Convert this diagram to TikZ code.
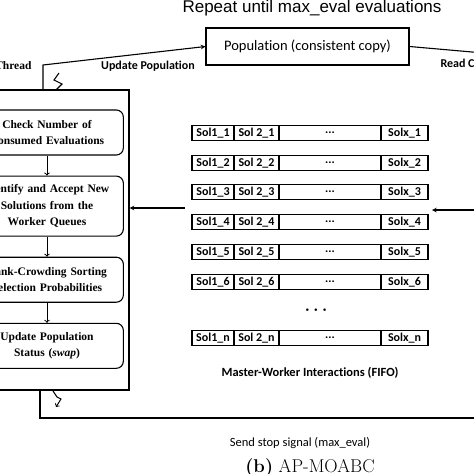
\documentclass[tikz,border=0pt]{standalone}
\usepackage{fontspec}
\newfontfamily\calibrifont[Ligatures=NoCommon]{Carlito}
\newfontfamily\arialfont{Liberation Sans}
\newfontfamily\cambriafont{Liberation Serif}
\usetikzlibrary{arrows, positioning}
\tikzstyle{population} = [rectangle, minimum width=203pt, minimum height=37pt, text centered, draw=black, line width=1.1pt, font=\calibrifont\fontsize{14.5}{16}\selectfont]
\tikzstyle{task} = [rectangle, rounded corners=7pt, minimum width=150pt, minimum height=45pt, text width=146pt, align=center, draw=black, line width=1.1pt, font=\cambriafont\bfseries\fontsize{11.5}{16.5}\selectfont]
\tikzstyle{master} = [rectangle, minimum width=149pt, minimum height=300pt, draw=black, line width=1.1pt]
\tikzstyle{cell} = [rectangle, minimum height=15.7pt, inner sep=0pt, outer sep=0pt, text centered, draw=black, line width=1.1pt, font=\calibrifont\bfseries\fontsize{12}{13}\selectfont]
\tikzstyle{cellA} = [cell, minimum width=42pt]
\tikzstyle{cellB} = [cell, minimum width=45pt]
\tikzstyle{cellC} = [cell, minimum width=102pt]
\tikzstyle{cellD} = [cell, minimum width=47pt]
\tikzstyle{boldtext} = [font=\calibrifont\bfseries\fontsize{12}{14}\selectfont]
\tikzstyle{plaintext} = [font=\calibrifont\fontsize{12.5}{14}\selectfont]
\tikzstyle{arrow} = [line width=1.1pt,->,>=stealth]
\tikzstyle{darrow} = [line width=1pt,->,>=to]
\tikzstyle{line} = [line width=1.1pt]

\begin{document}
\begin{tikzpicture}[x=1pt, y=-1pt, node distance=20pt]
\useasboundingbox (0,0) rectangle (474,474);
\clip (0,0) rectangle (474,474);

% Nodes
\node (title) [font=\arialfont\fontsize{17}{19}\selectfont] at (312,8) {Repeat until max\_eval evaluations};
\node (pop) [population] at (307.5,46.5) {Population (consistent copy)};

\node (master) [master] at (54.5,240) {};
\node (thread) [anchor=east, font=\cambriafont\bfseries\fontsize{11.5}{13}\selectfont] at (35,66) {Master Thread};

\node (check) [task] at (47,132.5) {Check Number of\\Consumed Evaluations};
\node (accept) [task, below=of check, minimum height=60pt] {Identify and Accept New\\Solutions from the\\Worker Queues};
\node (sort) [task, below=of accept] {Rank-Crowding Sorting\\Selection Probabilities};
\node (swap) [task, below=of sort] {Update Population\\Status (\textit{swap})};

\node (updtext) [boldtext] at (148,66) {Update Population};
\node (readtext) [boldtext, anchor=west] at (437,64) {Read Copy};

% Queues
\node (s11) [cellA] at (213,133) {Sol1\_1};
\node (s21) [cellB, right=0pt of s11] {Sol 2\_1};
\node (sd1) [cellC, right=0pt of s21] {...};
\node (sx1) [cellD, right=0pt of sd1] {Solx\_1};

\node (s12) [cellA] at (213,163) {Sol1\_2};
\node (s22) [cellB, right=0pt of s12] {Sol 2\_2};
\node (sd2) [cellC, right=0pt of s22] {...};
\node (sx2) [cellD, right=0pt of sd2] {Solx\_2};

\node (s13) [cellA] at (213,192) {Sol1\_3};
\node (s23) [cellB, right=0pt of s13] {Sol 2\_3};
\node (sd3) [cellC, right=0pt of s23] {...};
\node (sx3) [cellD, right=0pt of sd3] {Solx\_3};

\node (s14) [cellA] at (213,222) {Sol1\_4};
\node (s24) [cellB, right=0pt of s14] {Sol 2\_4};
\node (sd4) [cellC, right=0pt of s24] {...};
\node (sx4) [cellD, right=0pt of sd4] {Solx\_4};

\node (s15) [cellA] at (213,252) {Sol1\_5};
\node (s25) [cellB, right=0pt of s15] {Sol 2\_5};
\node (sd5) [cellC, right=0pt of s25] {...};
\node (sx5) [cellD, right=0pt of sd5] {Solx\_5};

\node (s16) [cellA] at (213,282) {Sol1\_6};
\node (s26) [cellB, right=0pt of s16] {Sol 2\_6};
\node (sd6) [cellC, right=0pt of s26] {...};
\node (sx6) [cellD, right=0pt of sd6] {Solx\_6};

\node (vdots) [font=\bfseries\fontsize{18}{18}\selectfont] at (316,310) {.\,.\,.};

\node (s1n) [cellA] at (213,338) {Sol1\_n};
\node (s2n) [cellB, right=0pt of s1n] {Sol 2\_n};
\node (sdn) [cellC, right=0pt of s2n] {...};
\node (sxn) [cellD, right=0pt of sdn] {Solx\_n};

\node (fifo) [font=\calibrifont\bfseries\fontsize{12.5}{14}\selectfont] at (310,373) {Master-Worker Interactions (FIFO)};
\node (stoptext) [plaintext] at (300,443) {Send stop signal (max\_eval)};
\node (caption) [anchor=base, font=\fontsize{18.5}{20}\selectfont] at (310,472) {\textbf{(b)} AP-MOABC};

% Coordinates
\coordinate (upd) at (43,65);
\coordinate (readend) at (480,52.7);
\coordinate (qin) at (185,208);
\coordinate (qout) at (480,210);
\coordinate (qtip) at (432,210);
\coordinate (stop) at (40,418);
\coordinate (stopend) at (480,418);

% Arrows
\draw [arrow] (master.north -| upd) -- (upd) -- (pop.west);
\draw [line] (pop.east) -- (readend);

\draw [darrow] (check) -- (accept);
\draw [darrow] (accept) -- (sort);
\draw [darrow] (sort) -- (swap);

\draw [arrow] (qin) -- (qin -| master.east);
\draw [arrow] (qout) -- (qtip);

\draw [line] (master.south -| stop) -- (stop) -- (stopend);

% Signals
\draw [line] (59,73) -- (54,80) -- (62,84) -- (56,90);
\draw [darrow] (53,391) -- (57,397) -- (61,399) -- (56,407);

\end{tikzpicture}
\end{document}
